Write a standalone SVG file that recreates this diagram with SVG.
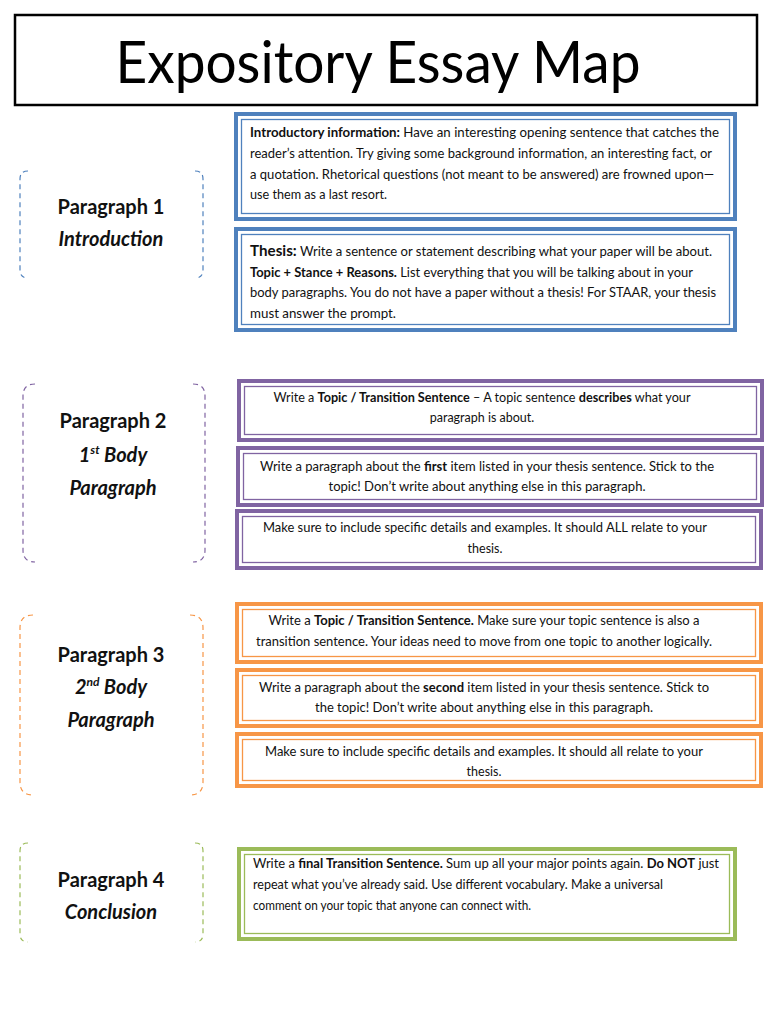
<svg xmlns="http://www.w3.org/2000/svg" width="768" height="1024" viewBox="0 0 768 1024">
<style>
.t{font-family:Lato,"Liberation Sans",sans-serif;font-size:12.5px;fill:#111}
.c{text-anchor:middle}
.b{font-weight:bold}
.lbl{font-family:Lato,"Liberation Sans",sans-serif;font-size:20px;font-weight:bold;fill:#111;text-anchor:middle}
.it{font-style:italic}
.ob{fill:#fff;stroke:#4f81bd;stroke-width:4}
.ib{fill:none;stroke:#4f81bd;stroke-width:1.3}
.op{fill:#fff;stroke:#8064a2;stroke-width:4}
.ip{fill:none;stroke:#8064a2;stroke-width:1.3}
.oo{fill:#fff;stroke:#f79646;stroke-width:4}
.io{fill:none;stroke:#f79646;stroke-width:1.3}
.og{fill:#fff;stroke:#9bbb59;stroke-width:4}
.ig{fill:none;stroke:#9bbb59;stroke-width:1.3}
.br{fill:none;stroke-width:1.2;stroke-dasharray:5 4}
</style>
<rect width="768" height="1024" fill="#fff"/>
<g id="title">
<rect x="15" y="15" width="742" height="90" fill="#fff" stroke="#000" stroke-width="2.5"/>
<text x="378" y="83" font-family="Lato,'Liberation Sans',sans-serif" font-size="58" text-anchor="middle" fill="#000" textLength="525" lengthAdjust="spacingAndGlyphs">Expository Essay Map</text>
</g>
<g id="p1-label">
<path class="br" stroke="#4f81bd" d="M28 171 Q20 171 20 179 L20 270 Q20 278 28 278"/>
<path class="br" stroke="#4f81bd" d="M195 171 Q203 171 203 179 L203 270 Q203 278 195 278"/>
<text class="lbl" x="111" y="214">Paragraph 1</text>
<text class="lbl it" x="111" y="246">Introduction</text>
</g>
<g id="p1-intro">
<rect class="ob" x="236" y="114" width="499" height="105"/>
<rect class="ib" x="241.5" y="119.5" width="488" height="94"/>
<text class="t" x="250" y="137" textLength="469" lengthAdjust="spacingAndGlyphs"><tspan class="b">Introductory information:</tspan> Have an interesting opening sentence that catches the</text>
<text class="t" x="250" y="158" textLength="462" lengthAdjust="spacingAndGlyphs">reader’s attention. Try giving some background information, an interesting fact, or</text>
<text class="t" x="250" y="179" textLength="464" lengthAdjust="spacingAndGlyphs">a quotation. Rhetorical questions (not meant to be answered) are frowned upon—</text>
<text class="t" x="250" y="199" textLength="137" lengthAdjust="spacingAndGlyphs">use them as a last resort.</text>
</g>
<g id="p1-thesis">
<rect class="ob" x="236" y="229" width="499" height="101"/>
<rect class="ib" x="241.5" y="234.5" width="488" height="90"/>
<text class="t" x="250" y="256" textLength="462" lengthAdjust="spacingAndGlyphs"><tspan class="b" font-size="14.5">Thesis:</tspan> Write a sentence or statement describing what your paper will be about.</text>
<text class="t" x="250" y="277" textLength="443" lengthAdjust="spacingAndGlyphs"><tspan class="b">Topic + Stance + Reasons.</tspan>  List everything that you will be talking about in your</text>
<text class="t" x="250" y="297" textLength="466" lengthAdjust="spacingAndGlyphs">body paragraphs. You do not have a paper without a thesis! For STAAR, your thesis</text>
<text class="t" x="250" y="318" textLength="146" lengthAdjust="spacingAndGlyphs">must answer the prompt.</text>
</g>
<g id="p2-label">
<path class="br" stroke="#8064a2" d="M35 384 Q23 384 23 396 L23 550 Q23 562 35 562"/>
<path class="br" stroke="#8064a2" d="M193 384 Q205 384 205 396 L205 550 Q205 562 193 562"/>
<text class="lbl" x="113" y="428">Paragraph 2</text>
<text class="lbl it" x="113" y="462">1<tspan font-size="12" dy="-8">st</tspan><tspan dy="8"> Body</tspan></text>
<text class="lbl it" x="113" y="495">Paragraph</text>
</g>
<g id="p2-topic">
<rect class="op" x="239" y="381" width="523" height="59"/>
<rect class="ip" x="244.5" y="386.5" width="512" height="48"/>
<text class="t c" x="482" y="402" textLength="417" lengthAdjust="spacingAndGlyphs">Write a <tspan class="b">Topic / Transition Sentence</tspan> – A topic sentence <tspan class="b">describes</tspan> what your</text>
<text class="t c" x="482" y="422">paragraph is about.</text>
</g>
<g id="p2-first">
<rect class="op" x="238" y="448" width="524" height="57"/>
<rect class="ip" x="243.5" y="453.5" width="513" height="46"/>
<text class="t c" x="487" y="471" textLength="454" lengthAdjust="spacingAndGlyphs">Write a paragraph about the <tspan class="b">first</tspan> item listed in your thesis sentence. Stick to the</text>
<text class="t c" x="487" y="491" textLength="317" lengthAdjust="spacingAndGlyphs">topic! Don’t write about anything else in this paragraph.</text>
</g>
<g id="p2-details">
<rect class="op" x="237" y="511" width="524" height="57"/>
<rect class="ip" x="242.5" y="516.5" width="513" height="46"/>
<text class="t c" x="485" y="532" textLength="444" lengthAdjust="spacingAndGlyphs">Make sure to include specific details and examples. It should ALL relate to your</text>
<text class="t c" x="485" y="553">thesis.</text>
</g>
<g id="p3-label">
<path class="br" stroke="#f79646" d="M33 615 Q20 615 20 628 L20 782 Q20 795 33 795"/>
<path class="br" stroke="#f79646" d="M190 615 Q203 615 203 628 L203 782 Q203 795 190 795"/>
<text class="lbl" x="111" y="662">Paragraph 3</text>
<text class="lbl it" x="111" y="694">2<tspan font-size="12" dy="-8">nd</tspan><tspan dy="8"> Body</tspan></text>
<text class="lbl it" x="111" y="727">Paragraph</text>
</g>
<g id="p3-topic">
<rect class="oo" x="237" y="604" width="524" height="58"/>
<rect class="io" x="242.5" y="609.5" width="513" height="47"/>
<text class="t c" x="484" y="625" textLength="431" lengthAdjust="spacingAndGlyphs">Write a <tspan class="b">Topic / Transition Sentence.</tspan> Make sure your topic sentence is also a</text>
<text class="t c" x="484" y="646" textLength="456" lengthAdjust="spacingAndGlyphs">transition sentence. Your ideas need to move from one topic to another logically.</text>
</g>
<g id="p3-second">
<rect class="oo" x="237" y="670" width="524" height="56"/>
<rect class="io" x="242.5" y="675.5" width="513" height="45"/>
<text class="t c" x="484" y="692" textLength="450" lengthAdjust="spacingAndGlyphs">Write a paragraph about the <tspan class="b">second</tspan> item listed in your thesis sentence. Stick to</text>
<text class="t c" x="484" y="712" textLength="338" lengthAdjust="spacingAndGlyphs">the topic! Don’t write about anything else in this paragraph.</text>
</g>
<g id="p3-details">
<rect class="oo" x="237" y="734" width="524" height="52"/>
<rect class="io" x="242.5" y="739.5" width="513" height="41"/>
<text class="t c" x="484" y="756" textLength="438" lengthAdjust="spacingAndGlyphs">Make sure to include specific details and examples. It should all relate to your</text>
<text class="t c" x="484" y="776">thesis.</text>
</g>
<g id="p4-label">
<path class="br" stroke="#9bbb59" d="M28 843 Q20 843 20 851 L20 934 Q20 942 28 942"/>
<path class="br" stroke="#9bbb59" d="M195 843 Q203 843 203 851 L203 934 Q203 942 195 942"/>
<text class="lbl" x="111" y="887">Paragraph 4</text>
<text class="lbl it" x="111" y="919">Conclusion</text>
</g>
<g id="p4-conclusion">
<rect class="og" x="239" y="849" width="496" height="90"/>
<rect class="ig" x="244.5" y="854.5" width="485" height="79"/>
<text class="t" x="253" y="868" textLength="466" lengthAdjust="spacingAndGlyphs">Write a <tspan class="b">final Transition Sentence.</tspan> Sum up all your major points again. <tspan class="b">Do NOT</tspan> just</text>
<text class="t" x="253" y="889" textLength="410" lengthAdjust="spacingAndGlyphs">repeat what you’ve already said. Use different vocabulary. Make a universal</text>
<text class="t" x="253" y="910" textLength="278" lengthAdjust="spacingAndGlyphs">comment on your topic that anyone can connect with.</text>
</g>
</svg>
